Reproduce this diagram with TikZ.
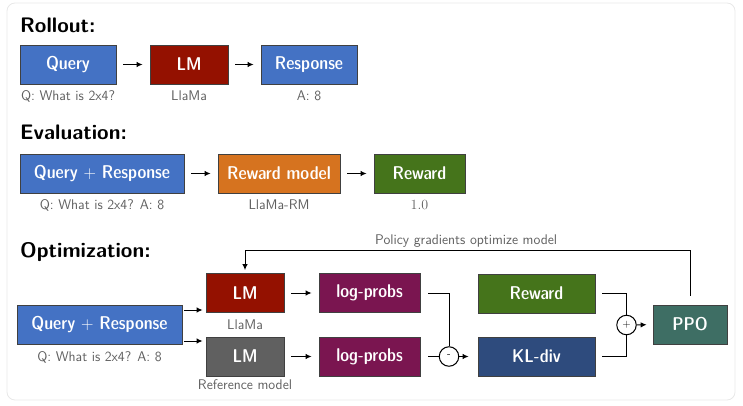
\documentclass[tikz,border=0pt]{standalone}
\usepackage{fontspec}
\newfontfamily\boxfont[Extension=.otf]{lmsansdemicond10-regular}
\usetikzlibrary{arrows.meta,calc}
\definecolor{cblue}{RGB}{68,114,196}
\definecolor{cred}{RGB}{148,17,0}
\definecolor{corange}{RGB}{214,115,31}
\definecolor{cgreen}{RGB}{69,116,27}
\definecolor{cpurple}{RGB}{122,21,80}
\definecolor{cgray}{RGB}{96,96,96}
\definecolor{cnavy}{RGB}{46,75,125}
\definecolor{cteal}{RGB}{62,110,100}
\definecolor{labgray}{RGB}{95,95,95}
\definecolor{framegray}{RGB}{232,232,232}
\tikzset{
  box/.style={draw=black!75, line width=0.8pt, text=white, inner sep=0pt,
    minimum height=39pt, font=\boxfont\fontsize{18.5}{20}\selectfont},
  lab/.style={text=labgray, inner sep=0pt, font=\sffamily\fontsize{14}{16}\selectfont},
  head/.style={anchor=base west, inner sep=0pt, font=\sffamily\bfseries\fontsize{21}{24}\selectfont},
  arr/.style={-{Latex[length=6pt,width=5.5pt]}, line width=1pt, shorten <=7pt, shorten >=7pt},
  conn/.style={line width=1pt},
  op/.style={circle, draw, line width=1pt, fill=white, minimum size=19.5pt, inner sep=0pt,
    font=\sffamily\fontsize{11}{11}\selectfont}
}
\begin{document}
\begin{tikzpicture}[x=1pt,y=-1pt]
\useasboundingbox (0,0) rectangle (743,406);
\draw[framegray, line width=0.8pt, rounded corners=8pt] (7,3) rectangle (735,400);

% Rollout
\node[head] (h1) at (20,33) {Rollout:};
\node[box, fill=cblue, minimum width=96pt] (q1) at (68,64.5) {Query};
\node[box, fill=cred, minimum width=78pt] (lm0) at (189,64.5) {LM};
\node[box, fill=cblue, minimum width=96pt] (r1) at (309,64.5) {Response};
\node[lab] (q1l) at (68,96) {Q: What is 2x4?};
\node[lab] (lm0l) at (189,96) {LlaMa};
\node[lab] (r1l) at (309,96) {A: 8};
\draw[arr] (q1) -- (lm0);
\draw[arr] (lm0) -- (r1);

% Evaluation
\node[head] (h2) at (20,140) {Evaluation:};
\node[box, fill=cblue, minimum width=164pt] (qr2) at (102,173.5) {Query $+$ Response};
\node[box, fill=corange, minimum width=122pt] (rm) at (279,173.5) {Reward model};
\node[box, fill=cgreen, minimum width=91pt] (rw2) at (419.5,173.5) {Reward};
\node[lab] (qr2l) at (102,205) {Q: What is 2x4? A: 8};
\node[lab] (rml) at (279,205) {LlaMa-RM};
\node[lab, font=\rmfamily\fontsize{14}{16}\selectfont] (rw2l) at (419.5,205) {1.0};
\draw[arr] (qr2) -- (rm);
\draw[arr] (rm) -- (rw2);

% Optimization
\node[head] (h3) at (20,257) {Optimization:};
\node[box, fill=cblue, minimum width=165pt] (qr3) at (99.5,324.5) {Query $+$ Response};
\node[lab] (qr3l) at (99.5,357) {Q: What is 2x4? A: 8};
\node[box, fill=cred, minimum width=78pt] (lm1) at (245,293) {LM};
\node[box, fill=cgray, minimum width=78pt] (lm2) at (245,356.5) {LM};
\node[lab] (lm1l) at (245,325) {LlaMa};
\node[lab] (lm2l) at (245,385) {Reference model};
\node[box, fill=cpurple, minimum width=101pt] (lp1) at (369.5,293) {log-probs};
\node[box, fill=cpurple, minimum width=101pt] (lp2) at (369.5,356.5) {log-probs};
\node[op] (minus) at (449,356.5) {-};
\node[box, fill=cgreen, minimum width=117pt] (rw3) at (536.5,293.5) {Reward};
\node[box, fill=cnavy, minimum width=117pt] (kl) at (536.5,356.5) {KL-div};
\node[op] (plus) at (626.5,325) {+};
\node[box, fill=cteal, minimum width=74pt] (ppo) at (690,324.5) {PPO};

\coordinate (s1) at (182,310);
\coordinate (s2) at (182,341);
\draw[arr, shorten <=2pt, shorten >=3pt] (s1) -- (s1 -| lm1.west);
\draw[arr, shorten <=2pt, shorten >=3pt] (s2) -- (s2 -| lm2.west);
\draw[arr] (lm1) -- (lp1);
\draw[arr] (lm2) -- (lp2);
\draw[conn, shorten <=8pt] (lp1.east) -| (minus.north);
\draw[conn, shorten <=8pt] (lp2.east) -- (minus.west);
\draw[arr, shorten <=0pt, shorten >=9pt] (minus.east) -- (kl.west);
\draw[conn, shorten <=7pt] (rw3.east) -| (plus.north);
\draw[conn, shorten <=7pt] (kl.east) -| (plus.south);
\draw[arr, shorten <=0pt, shorten >=6pt] (plus.east) -- (ppo.west);
\coordinate (fb) at (690,250);
\draw[arr, shorten <=9pt, shorten >=3pt] (ppo.north) -- (fb) -| (lm1.north);
\node[lab, anchor=south west] (pgl) at (375,248) {Policy gradients optimize model};
\end{tikzpicture}
\end{document}
